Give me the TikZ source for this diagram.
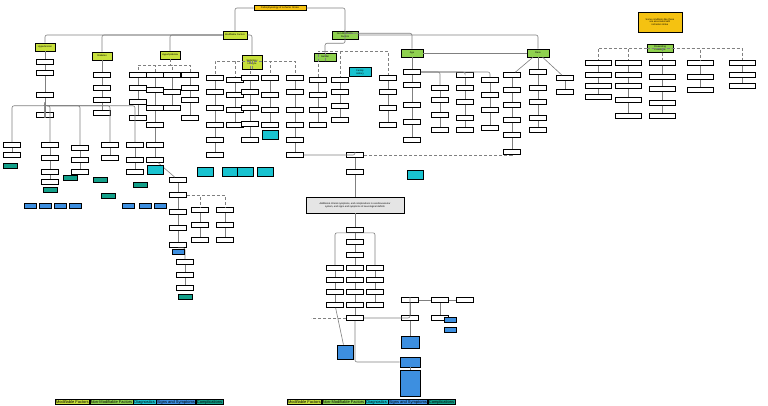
\documentclass[tikz,border=0pt]{standalone}
\usepackage{fontspec}
\setmainfont{Liberation Sans}
\begin{document}
\begin{tikzpicture}[x=1pt,y=-1pt,
  bx/.style={draw=black,line width=0.6pt,inner sep=0.6pt,font=\fontsize{2.4}{2.8}\selectfont,align=center},
  wb/.style={bx,fill=white,minimum width=17pt,minimum height=5pt},
  yg/.style={bx,fill=yg,minimum width=20pt,minimum height=8pt},
  gr/.style={bx,fill=gr,minimum width=22pt,minimum height=8pt},
  cy/.style={bx,fill=cy,minimum width=16pt,minimum height=9pt},
  bl/.style={bx,fill=bl,minimum width=12pt,minimum height=5pt},
  tl/.style={bx,fill=tl,minimum width=14pt,minimum height=5pt},
  ln/.style={gray,line width=0.6pt,rounded corners=2pt},
  dl/.style={gray,line width=0.5pt,densely dashed},
  lg/.style={draw=black,line width=0.5pt,inner sep=0.8pt,font=\fontsize{4}{4.5}\selectfont,minimum height=5pt}]
\definecolor{yg}{HTML}{C8E03C}\definecolor{gr}{HTML}{8FD14F}\definecolor{cy}{HTML}{19C3D0}
\definecolor{bl}{HTML}{3D8FE0}\definecolor{tl}{HTML}{13A08A}\definecolor{org}{HTML}{F5C211}
\useasboundingbox[fill=white] (0,0) rectangle (768,406);
% top
\node[bx,fill=org,minimum width=52pt,minimum height=5pt] (title) at (280,8) {Pathophysiology of Ischemic Stroke};
\node[yg,minimum width=24pt] (mf) at (235,35) {Modifiable Factors};
\node[gr,minimum width=26pt] (nmf) at (345,35) {Non-Modifiable\\Factors};
\draw[ln] (title.west) -| (mf.north);
\draw[ln] (title.east) -| (nmf.north);
\node[yg] (y1) at (45,47) {Hypertension};
\node[yg] (y2) at (102,56) {Diabetes};
\node[yg] (y3) at (170,55) {Hyperlipidemia};
\node[yg,minimum height=14pt] (y4) at (252,62) {Sedentary\\Lifestyle};
\draw[ln] (mf.west) -| (y1.north);
\draw[ln] (mf.west) -| (y2.north);
\draw[ln] (mf.west) -| (y3.north);
\draw[ln] (mf.east) -| (y4.north);
\node[gr] (g1) at (325,57) {Gender};
\node[cy,minimum width=22pt] (g2) at (360,72) {Family\\History};
\node[gr] (g3) at (412,53) {Age};
\node[gr] (g4) at (538,53) {Race};
\draw[ln] (nmf.south) |- ([yshift=-4pt]nmf.south) -| (g1.north);
\draw[ln] (nmf.south) |- ([yshift=6pt]nmf.south) -| (g3.north);
\draw[ln] (nmf.east) -| (g4.north);
\draw[ln] (g3.east) -- (g4.west);
% top right
\node[bx,fill=org,minimum width=44pt,minimum height=20pt] (note) at (660,22) {Some conditions like those\\are associated with\\ischemic stroke};
\node[gr,minimum width=26pt] (pc) at (660,48) {Preexisting\\Conditions};
\foreach \xx/\ys [count=\i] in {598/{63,75,86,97},628/{63,75,86,100,116},662/{63,77,89,103,116},700/{63,77,90},742/{63,75,86}}{
  \foreach \yy [count=\k] in \ys {\node[wb,minimum width=26pt] (p\i-\k) at (\xx,\yy) {};
    \ifnum\k>1 \pgfmathtruncatemacro\pv{\k-1}\draw[ln] (p\i-\pv) -- (p\i-\k);\fi}
  \draw[dl] (pc.west) -| (p\i-1.north);}
% white columns
\foreach \xx/\ys [count=\i] in {
 45/{62,73,95,115},102/{75,88,100,113},138/{75,88,102,118},155/{75,90,108,125,145,160},172/{75,92,108},190/{75,88,100,118},
 215/{78,92,108,125,140,155},235/{80,95,110,125},250/{78,92,108,124,140},270/{78,95,110,125},295/{78,92,110,125,140,155},
 318/{80,95,110,125},340/{80,92,106,120},388/{78,92,108,125},412/{72,85,105,122,140},440/{88,100,115,130},465/{75,88,102,118,130},490/{80,95,110,128},
 512/{75,90,105,120,135,152},538/{72,88,102,118,130},565/{78,92},
 12/{145,155},50/{145,158,172,182},80/{148,160,172},110/{145,158},135/{145,160,172},
 178/{180,195,212,228,245},200/{210,225,240},225/{210,225,240},
 185/{262,275,288},355/{155,172,230,242,255,268,280,292,305,318},335/{268,280,292,305},375/{268,280,292,305},
 410/{300,318},440/{300,318},465/{300}}{
  \foreach \yy [count=\k] in \ys {\node[wb] (c\i-\k) at (\xx,\yy) {};
    \ifnum\k>1 \pgfmathtruncatemacro\pv{\k-1}\draw[ln] (c\i-\pv) -- (c\i-\k);\fi}}
\foreach \a/\b in {y1/1,y2/2,g3/15,g4/19,g4/20,g4/21}{\draw[ln] (\a) -- (c\b-1);}
\foreach \b in {3,4,5,6}{\draw[dl] (y3.south) |- ([yshift=-6pt]y3.south) -| (c\b-1.north);}
\foreach \b in {7,8,9,10,11}{\draw[dl] (y4.south) |- ([yshift=8pt]y4.south) -| (c\b-1.north);}
\foreach \b in {12,13,14}{\draw[dl] (g1.south) |- ([yshift=10pt]g1.south) -| (c\b-1.north);}
\foreach \b in {16,17,18}{\draw[ln] (c15-1.east) -| (c\b-1.north);}
\foreach \b in {22,23,24,25,26}{\draw[ln] (c1-4.south) |- ([yshift=12pt]c1-4.south) -| (c\b-1.north);}
\draw[ln] (c4-6) -- (c27-1);
\foreach \b in {28,29}{\draw[dl] (c27-2.east) -| (c\b-1.north);}
\draw[ln] (c27-5.south) -| (c30-1.north);
% central
\node[bx,fill=gray!20,minimum width=98pt,minimum height=16pt] (add) at (355,205) {Additional clinical symptoms, and complications in cerebrovascular\\system, and signs and symptoms of neurological deficits};
\draw[ln] (c31-2) -- (add);
\draw[ln] (add) -- (c31-3);
\draw[ln] (c11-6.east) -| (c31-1.north);
\draw[dl] (c19-6.south) |- (c31-1.east);
\foreach \b in {32,33}{\draw[ln] (c31-3.south) -| (c\b-1.north);}
\draw[ln] (c31-10.east) -| (c34-1.north);
\draw[ln] (c34-1) -- (c35-1);\draw[ln] (c35-1) -- (c36-1);
% colored leaves
\foreach \xx/\yy/\s in {415/175/cy,205/172/cy,230/172/cy,245/172/cy,265/172/cy,155/170/cy,270/135/cy,
  10/166/tl,50/190/tl,100/180/tl,108/196/tl,140/185/tl,185/297/tl,70/178/tl,
  30/206/bl,45/206/bl,60/206/bl,75/206/bl,128/206/bl,145/206/bl,160/206/bl,178/252/bl,
  450/320/bl,450/330/bl}
  {\node[\s] at (\xx,\yy) {};}
\node[bl,minimum width=16pt,minimum height=14pt] (b0) at (345,352) {};
\node[bl,minimum width=18pt,minimum height=12pt] (b3) at (410,342) {};
\node[bl,minimum width=20pt,minimum height=10pt] (b1) at (410,362) {};
\node[bl,minimum width=20pt,minimum height=26pt] (b2) at (410,383) {};
\draw[ln] (b1) -- (b2);
\draw[ln] (c32-4) -- (b0);
\draw[ln] (c31-10.south) |- (b1.west);
\draw[ln] (c34-2) -- (b3);
\draw[dl] (c31-10.west) -| ++(-35,0);
% legends
\foreach \x in {55,287}{
\node[lg,fill=yg,anchor=west] (l1) at (\x,402) {Modifiable Factors};
\node[lg,fill=gr,anchor=west] (l2) at (l1.east) {Non-Modifiable Factors};
\node[lg,fill=cy,anchor=west] (l3) at (l2.east) {Diagnostics};
\node[lg,fill=bl,anchor=west] (l4) at (l3.east) {Signs and Symptoms};
\node[lg,fill=tl,anchor=west] (l5) at (l4.east) {Complications};}
\end{tikzpicture}
\end{document}
